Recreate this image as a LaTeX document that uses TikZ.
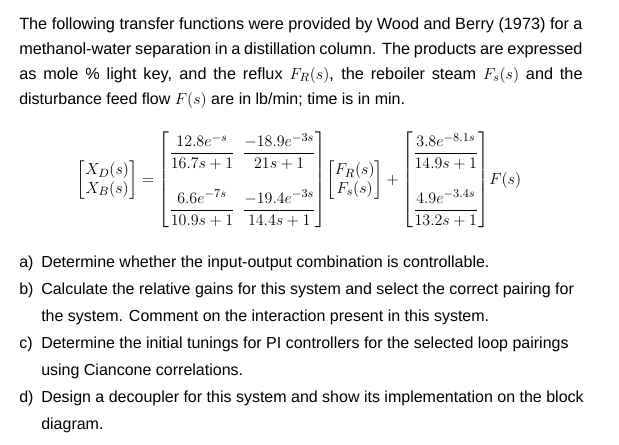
\documentclass[tikz,border=0pt]{standalone}
\usepackage{amsmath}
\usepackage{fontspec}
\setmainfont{Liberation Sans}
\begin{document}
\begin{tikzpicture}[x=0.75pt,y=-0.75pt]
\tikzset{
  jline/.style={anchor=west,inner sep=0pt,text width=422.5pt,align=justify,font=\fontsize{12.2}{14}\selectfont},
  rline/.style={anchor=west,inner sep=0pt,font=\fontsize{12}{14}\selectfont},
}
\useasboundingbox (0,0) rectangle (619,444);
\node[jline] (l1) at (19,25) {The following transfer functions were provided by Wood and Berry (1973) for a\parfillskip=0pt\par};
\node[jline] (l2) at (19,50) {methanol-water separation in a distillation column. The products are expressed\parfillskip=0pt\par};
\node[jline] (l3) at (19,75) {as mole \% light key, and the reflux $F_R(s)$, the reboiler steam $F_s(s)$ and the\parfillskip=0pt\par};
\node[rline] (l4) at (19,100) {disturbance feed flow $F(s)$ are in lb/min; time is in min.};
\node[inner sep=0pt,font=\fontsize{12.5}{14}\selectfont] (eq) at (299,180) {$\setlength\arraycolsep{3pt}
\begin{bmatrix} X_D(s)\\ X_B(s)\end{bmatrix}
=\begin{bmatrix}\dfrac{12.8e^{-s}}{16.7s+1} & \dfrac{-18.9e^{-3s}}{21s+1}\\[20pt]
\dfrac{6.6e^{-7s}}{10.9s+1} & \dfrac{-19.4e^{-3s}}{14.4s+1}\end{bmatrix}
\!\begin{bmatrix} F_R(s)\\ F_s(s)\end{bmatrix}
+\begin{bmatrix}\dfrac{3.8e^{-8.1s}}{14.9s+1}\\[20pt] \dfrac{4.9e^{-3.4s}}{13.2s+1}\end{bmatrix}\!F(s)$};
\node[rline] (a) at (19,263) {a)};
\node[rline] (at) at (41,263) {Determine whether the input-output combination is controllable.};
\node[rline] (b) at (19,290) {b)};
\node[rline] (bt) at (41,290) {Calculate the relative gains for this system and select the correct pairing for};
\node[rline] (bt2) at (41,317) {the system. Comment on the interaction present in this system.};
\node[rline] (c) at (19,344) {c)};
\node[rline] (ct) at (41,344) {Determine the initial tunings for PI controllers for the selected loop pairings};
\node[rline] (ct2) at (41,371) {using Ciancone correlations.};
\node[rline] (d) at (19,398) {d)};
\node[rline] (dt) at (41,398) {Design a decoupler for this system and show its implementation on the block};
\node[rline] (dt2) at (41,425) {diagram.};
\end{tikzpicture}
\end{document}
